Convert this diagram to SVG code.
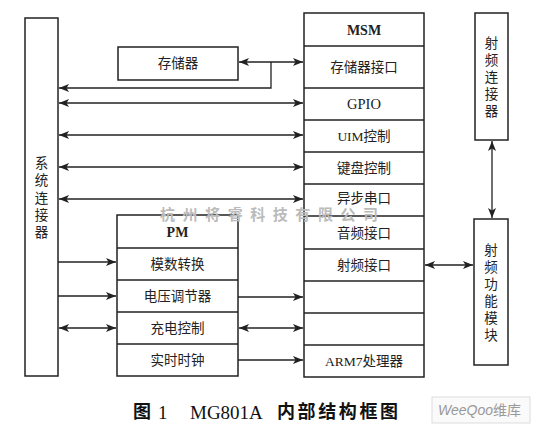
<svg xmlns="http://www.w3.org/2000/svg" width="537" height="428" viewBox="0 0 537 428">
<style>
.box{fill:#fff;stroke:#222;stroke-width:1.5}
.sep{stroke:#222;stroke-width:1.3}
.t{font-family:"Liberation Serif","Noto Sans CJK SC",serif;font-size:13.5px;fill:#222;text-anchor:middle;dominant-baseline:central}
.b{font-weight:bold;font-size:14px}
.l{font-size:14.5px}
.c{stroke:#222;stroke-width:1.3;fill:none}
.wm{font-family:"Noto Sans CJK SC",sans-serif;font-size:15px;fill:#bbb;font-weight:bold;dominant-baseline:central}
.cap{font-family:"Liberation Serif","Noto Sans CJK SC",serif;fill:#111;dominant-baseline:central}
</style>
<defs>
<marker id="a" viewBox="0 0 10 8" refX="10" refY="4" markerWidth="10" markerHeight="8" markerUnits="userSpaceOnUse" orient="auto-start-reverse">
<path d="M0,0 L10,4 L0,8 L2.5,4 Z" fill="#222"/>
</marker>
</defs>
<rect width="537" height="428" fill="#fff"/>

<g id="sys">
<rect class="box" x="25" y="18" width="33" height="358"/>
<text class="t" x="41.5" y="163">系</text>
<text class="t" x="41.5" y="180.5">统</text>
<text class="t" x="41.5" y="198">连</text>
<text class="t" x="41.5" y="215">接</text>
<text class="t" x="41.5" y="232">器</text>
</g>

<g id="mem">
<rect class="box" x="118" y="47" width="120" height="33"/>
<text class="t" x="178" y="63">存储器</text>
</g>

<g id="msm">
<rect class="box" x="304" y="13" width="120" height="364"/>
<line class="sep" x1="304" y1="46" x2="424" y2="46"/>
<line class="sep" x1="304" y1="88" x2="424" y2="88"/>
<line class="sep" x1="304" y1="120" x2="424" y2="120"/>
<line class="sep" x1="304" y1="152" x2="424" y2="152"/>
<line class="sep" x1="304" y1="184" x2="424" y2="184"/>
<line class="sep" x1="304" y1="216" x2="424" y2="216"/>
<line class="sep" x1="304" y1="249" x2="424" y2="249"/>
<line class="sep" x1="304" y1="281" x2="424" y2="281"/>
<line class="sep" x1="304" y1="313" x2="424" y2="313"/>
<line class="sep" x1="304" y1="345" x2="424" y2="345"/>
<text class="t b" x="364" y="30">MSM</text>
<text class="t" x="364" y="67">存储器接口</text>
<text class="t l" x="364" y="104">GPIO</text>
<text class="t" x="364" y="136">UIM控制</text>
<text class="t" x="364" y="168">键盘控制</text>
<text class="t" x="364" y="198">异步串口</text>
<text class="t" x="364" y="233">音频接口</text>
<text class="t" x="364" y="265">射频接口</text>
<text class="t" x="364" y="361">ARM7处理器</text>
</g>

<g id="pm">
<rect class="box" x="117" y="215" width="121" height="161"/>
<line class="sep" x1="117" y1="248" x2="238" y2="248"/>
<line class="sep" x1="117" y1="280" x2="238" y2="280"/>
<line class="sep" x1="117" y1="312" x2="238" y2="312"/>
<line class="sep" x1="117" y1="344" x2="238" y2="344"/>
<text class="t b" x="177.5" y="232">PM</text>
<text class="t" x="177.5" y="264">模数转换</text>
<text class="t" x="177.5" y="296">电压调节器</text>
<text class="t" x="177.5" y="328">充电控制</text>
<text class="t" x="177.5" y="360">实时时钟</text>
</g>

<g id="rfconn">
<rect class="box" x="475" y="13" width="33" height="127"/>
<text class="t" x="491.5" y="43">射</text>
<text class="t" x="491.5" y="60">频</text>
<text class="t" x="491.5" y="77">连</text>
<text class="t" x="491.5" y="94">接</text>
<text class="t" x="491.5" y="111">器</text>
</g>

<g id="rfmod">
<rect class="box" x="474" y="219" width="34" height="146"/>
<text class="t" x="491" y="250">射</text>
<text class="t" x="491" y="267">频</text>
<text class="t" x="491" y="284">功</text>
<text class="t" x="491" y="301">能</text>
<text class="t" x="491" y="318">模</text>
<text class="t" x="491" y="335">块</text>
</g>

<g id="connectors">
<line class="c" x1="239" y1="62" x2="303" y2="62" marker-start="url(#a)" marker-end="url(#a)"/>
<polyline class="c" points="271,62 271,88 59,88" marker-end="url(#a)"/>
<line class="c" x1="59" y1="103" x2="303" y2="103" marker-start="url(#a)" marker-end="url(#a)"/>
<line class="c" x1="59" y1="135" x2="303" y2="135" marker-start="url(#a)" marker-end="url(#a)"/>
<line class="c" x1="59" y1="167" x2="303" y2="167" marker-start="url(#a)" marker-end="url(#a)"/>
<line class="c" x1="59" y1="199" x2="303" y2="199" marker-start="url(#a)" marker-end="url(#a)"/>
<line class="c" x1="58" y1="262" x2="116" y2="262" marker-end="url(#a)"/>
<line class="c" x1="58" y1="296" x2="116" y2="296" marker-end="url(#a)"/>
<line class="c" x1="59" y1="328" x2="116" y2="328" marker-start="url(#a)" marker-end="url(#a)"/>
<line class="c" x1="238" y1="297" x2="303" y2="297" marker-end="url(#a)"/>
<line class="c" x1="239" y1="328" x2="303" y2="328" marker-start="url(#a)" marker-end="url(#a)"/>
<line class="c" x1="238" y1="360" x2="303" y2="360" marker-end="url(#a)"/>
<line class="c" x1="425" y1="265" x2="473" y2="265" marker-start="url(#a)" marker-end="url(#a)"/>
<line class="c" x1="492" y1="141" x2="492" y2="218" marker-start="url(#a)" marker-end="url(#a)"/>
</g>

<text class="wm" x="160" y="213" textLength="218" lengthAdjust="spacing">杭州将睿科技有限公司</text>

<g id="caption">
<text class="cap" x="133" y="412" font-size="18" font-weight="bold">图</text>
<text class="cap" x="158" y="412" font-size="19">1</text>
<text class="cap" x="190" y="412" font-size="19">MG801A</text>
<text class="cap" x="277" y="412" font-size="18" font-weight="bold" textLength="121" lengthAdjust="spacing">内部结构框图</text>
</g>

<g id="weeqoo">
<rect x="432" y="397" width="98" height="26" fill="#fafafa" stroke="#ddd" stroke-width="1"/>
<text x="438" y="415" font-family="'Liberation Sans','Noto Sans CJK SC',sans-serif" font-size="14" font-style="italic" fill="#999">WeeQoo<tspan font-style="normal">维库</tspan></text>
</g>
</svg>
